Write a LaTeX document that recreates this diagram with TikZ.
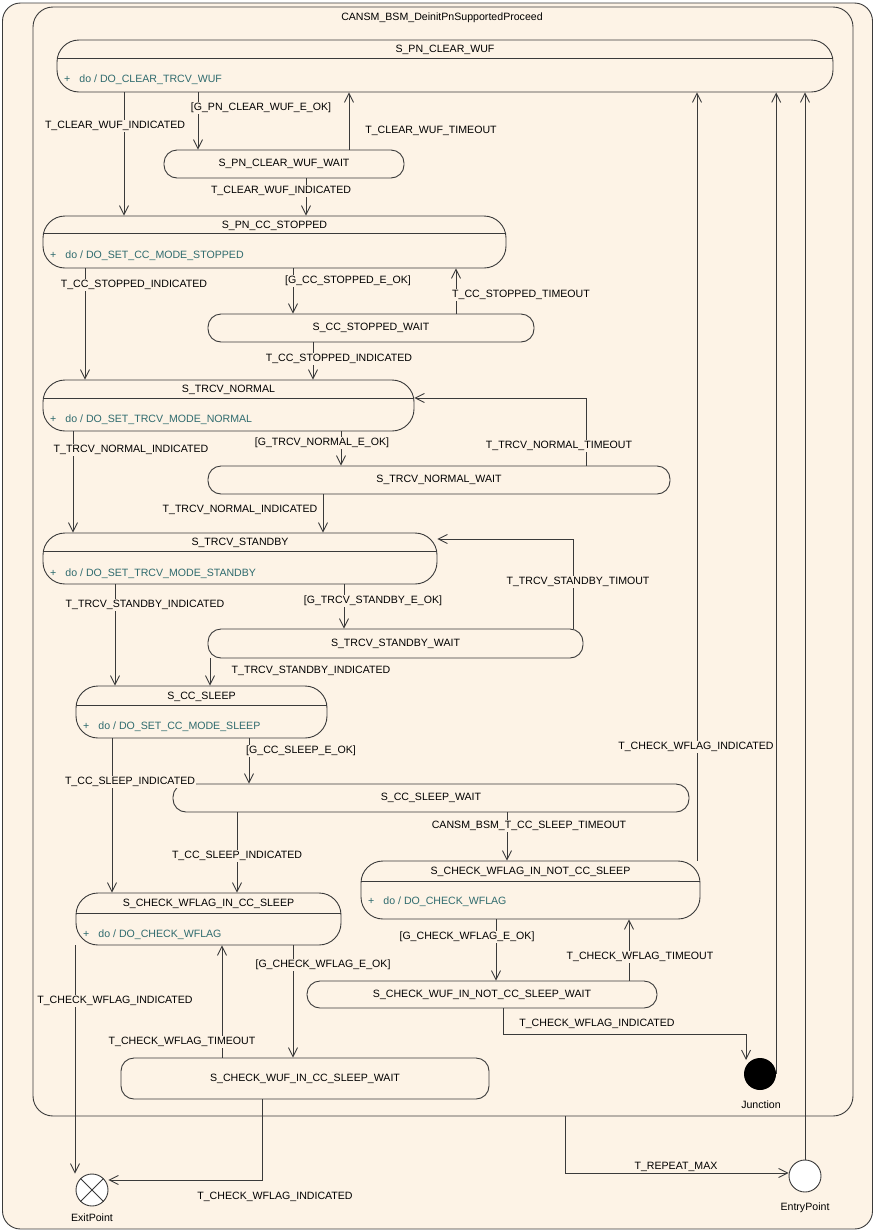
\documentclass[tikz,border=0pt]{standalone}
\usepackage{fontspec}
\setmainfont{Liberation Sans}
\usetikzlibrary{arrows.meta}
\definecolor{bg}{HTML}{FDF3E6}
\definecolor{ln}{HTML}{3A3A3A}
\definecolor{dotxt}{HTML}{2F6B6E}
\tikzset{
  st/.style={draw=ln,line width=0.9pt,rounded corners=13pt,inner sep=0pt},
  cst/.style={draw=ln,line width=0.9pt,rounded corners=22pt,inner sep=0pt},
  tr/.style={draw=ln,line width=0.9pt,-{Straight Barb[length=9pt,width=9pt,line width=0.9pt]}},
  pl/.style={draw=ln,line width=0.9pt},
  lb/.style={font=\fontsize{10.6}{12}\selectfont,text=black,fill=bg,inner sep=1pt},
  tt/.style={font=\fontsize{10.6}{12}\selectfont,text=black,inner sep=0pt},
  dt/.style={font=\fontsize{10.6}{12}\selectfont,text=dotxt,inner sep=0pt,anchor=west}
}
\newcommand{\sst}[6]{\node[st,minimum width={#4-#2},minimum height={#5-#3}] (#1) at ({(#2+#4)/2},{(#3+#5)/2}) {};
  \node[tt] (#1t) at ({(#2+#4)/2},{(#3+#5)/2}) {#6};}
\newcommand{\cstate}[9]{\node[cst,minimum width={#4-#2},minimum height={#5-#3}] (#1) at ({(#2+#4)/2},{(#3+#5)/2}) {};
  \draw[pl] (#2,#7) -- (#4,#7);
  \node[tt] (#1t) at ({(#2+#4)/2},{(#3+#7)/2+1}) {#6};
  \node[dt] (#1d) at ({#2+7},#8) {+\hspace{9pt}do / #9};}
\begin{document}
\begin{tikzpicture}[x=1pt,y=-1pt]
\node[draw=ln,fill=bg,line width=0.9pt,rounded corners=18pt,minimum width=870pt,minimum height=1226pt,inner sep=0pt] (frame) at (437.5,616) {};
\useasboundingbox (0,0) rectangle (875,1232);
\node[draw=ln,line width=0.9pt,rounded corners=20pt,minimum width=820pt,minimum height=1109pt,inner sep=0pt] (cont) at (443,561.5) {};
\node[tt] (contt) at (442,18) {CANSM\_BSM\_DeinitPnSupportedProceed};

\cstate{pcw}{57}{40}{833}{92}{S\_PN\_CLEAR\_WUF}{58}{80}{DO\_CLEAR\_TRCV\_WUF}
\sst{pcww}{164}{150}{404}{178}{S\_PN\_CLEAR\_WUF\_WAIT}
\cstate{pccs}{43}{216}{506}{268}{S\_PN\_CC\_STOPPED}{233}{256}{DO\_SET\_CC\_MODE\_STOPPED}
\sst{ccsw}{208}{314}{534}{342}{S\_CC\_STOPPED\_WAIT}
\cstate{tn}{43}{380}{414}{431}{S\_TRCV\_NORMAL}{398}{420}{DO\_SET\_TRCV\_MODE\_NORMAL}
\sst{tnw}{208}{466}{670}{494}{S\_TRCV\_NORMAL\_WAIT}
\cstate{ts}{43}{533}{437}{584}{S\_TRCV\_STANDBY}{551}{574}{DO\_SET\_TRCV\_MODE\_STANDBY}
\sst{tsw}{208}{629}{583}{658}{S\_TRCV\_STANDBY\_WAIT}
\cstate{cs}{76}{686}{327}{738}{S\_CC\_SLEEP}{705}{727}{DO\_SET\_CC\_MODE\_SLEEP}
\sst{csw}{173}{784}{689}{812}{S\_CC\_SLEEP\_WAIT}
\cstate{cwn}{361}{861}{700}{919}{S\_CHECK\_WFLAG\_IN\_NOT\_CC\_SLEEP}{881}{902}{DO\_CHECK\_WFLAG}
\cstate{cwc}{76}{893}{341}{945}{S\_CHECK\_WFLAG\_IN\_CC\_SLEEP}{913}{935}{DO\_CHECK\_WFLAG}
\sst{wnw}{307}{981}{657}{1008}{S\_CHECK\_WUF\_IN\_NOT\_CC\_SLEEP\_WAIT}
\sst{wcw}{121}{1058}{489}{1099}{S\_CHECK\_WUF\_IN\_CC\_SLEEP\_WAIT}

\node[circle,fill=black,minimum size=32pt,inner sep=0pt] (junc) at (760,1074) {};
\node[tt] (junct) at (761,1105) {Junction};
\node[circle,draw=ln,fill=white,line width=0.9pt,minimum size=32pt,inner sep=0pt] (entry) at (805,1176) {};
\node[tt] (entryt) at (805,1208) {EntryPoint};
\node[circle,draw=ln,fill=white,line width=0.9pt,minimum size=32pt,inner sep=0pt] (exitp) at (92,1190) {};
\draw[pl] (exitp.north west) -- (exitp.south east) (exitp.north east) -- (exitp.south west);
\node[tt] (exitt) at (92,1218) {ExitPoint};

\draw[tr] (pcw.south -| 124,0) -- (pccs.north -| 124,0);
\draw[tr] (pcw.south -| 198,0) -- (pcww.north -| 198,0);
\draw[tr] (pcww.north -| 349,0) -- (pcw.south -| 349,0);
\draw[tr] (pcww.south -| 306,0) -- (pccs.north -| 306,0);
\draw[tr] (pccs.south -| 85,0) -- (tn.north -| 85,0);
\draw[tr] (pccs.south -| 293,0) -- (ccsw.north -| 293,0);
\draw[tr] (ccsw.north -| 456,0) -- (pccs.south -| 456,0);
\draw[tr] (ccsw.south -| 313,0) -- (tn.north -| 313,0);
\draw[tr] (tn.south -| 73,0) -- (ts.north -| 73,0);
\draw[tr] (tn.south -| 341,0) -- (tnw.north -| 341,0);
\draw[tr] (tnw.north -| 586,0) -- (586,398) -- (tn.east |- 0,398);
\draw[tr] (tnw.south -| 323,0) -- (ts.north -| 323,0);
\draw[tr] (ts.south -| 115,0) -- (cs.north -| 115,0);
\draw[tr] (ts.south -| 344,0) -- (tsw.north -| 344,0);
\draw[tr] (tsw.north -| 573,0) -- (573,539) -- (ts.east |- 0,539);
\draw[tr] (tsw.south -| 210,0) -- (cs.north -| 210,0);
\draw[tr] (cs.south -| 112,0) -- (cwc.north -| 112,0);
\draw[tr] (cs.south -| 249,0) -- (csw.north -| 249,0);
\draw[tr] (csw.south -| 237,0) -- (cwc.north -| 237,0);
\draw[tr] (csw.south -| 507,0) -- (cwn.north -| 507,0);
\draw[tr] (cwn.north -| 697,0) -- (pcw.south -| 697,0);
\draw[tr] (cwn.south -| 496,0) -- (wnw.north -| 496,0);
\draw[tr] (wnw.north -| 629,0) -- (cwn.south -| 629,0);
\draw[tr] (wnw.south -| 503,0) -- (503,1034) -- (746,1034) -- (746,1060);
\draw[tr] (junc.east) -- (pcw.south -| junc.east);
\draw[tr] (entry.north) -- (pcw.south -| entry.north);
\draw[tr] (cwc.south -| 293,0) -- (wcw.north -| 293,0);
\draw[tr] (wcw.north -| 222,0) -- (cwc.south -| 222,0);
\draw[tr] (cwc.south -| 75,0) -- (exitp.north -| 75,0);
\draw[tr] (wcw.south -| 262,0) -- (262,1180) -- (exitp.east |- 0,1180);
\draw[tr] (cont.south -| 565,0) -- (565,1173) -- (entry.west |- 0,1173);

\node[lb] (l1) at (115,126) {T\_CLEAR\_WUF\_INDICATED};
\node[lb] (l2) at (261,108) {[G\_PN\_CLEAR\_WUF\_E\_OK]};
\node[lb] (l3) at (431,131) {T\_CLEAR\_WUF\_TIMEOUT};
\node[lb] (l4) at (281,191) {T\_CLEAR\_WUF\_INDICATED};
\node[lb] (l5) at (134,285) {T\_CC\_STOPPED\_INDICATED};
\node[lb] (l6) at (348,281) {[G\_CC\_STOPPED\_E\_OK]};
\node[lb] (l7) at (521,295) {T\_CC\_STOPPED\_TIMEOUT};
\node[lb] (l8) at (339,359) {T\_CC\_STOPPED\_INDICATED};
\node[lb] (l9) at (131,450) {T\_TRCV\_NORMAL\_INDICATED};
\node[lb] (l10) at (322,443) {[G\_TRCV\_NORMAL\_E\_OK]};
\node[lb] (l11) at (559,446) {T\_TRCV\_NORMAL\_TIMEOUT};
\node[lb] (l12) at (240,510) {T\_TRCV\_NORMAL\_INDICATED};
\node[lb] (l13) at (145,605) {T\_TRCV\_STANDBY\_INDICATED};
\node[lb] (l14) at (373,601) {[G\_TRCV\_STANDBY\_E\_OK]};
\node[lb] (l15) at (578,582) {T\_TRCV\_STANDBY\_TIMOUT};
\node[lb] (l16) at (311,671) {T\_TRCV\_STANDBY\_INDICATED};
\node[lb] (l17) at (130,782) {T\_CC\_SLEEP\_INDICATED};
\node[lb] (l18) at (301,751) {[G\_CC\_SLEEP\_E\_OK]};
\node[lb] (l19) at (237,856) {T\_CC\_SLEEP\_INDICATED};
\node[lb] (l20) at (529,826) {CANSM\_BSM\_T\_CC\_SLEEP\_TIMEOUT};
\node[lb] (l21) at (696,747) {T\_CHECK\_WFLAG\_INDICATED};
\node[lb] (l22) at (467,937) {[G\_CHECK\_WFLAG\_E\_OK]};
\node[lb] (l23) at (640,957) {T\_CHECK\_WFLAG\_TIMEOUT};
\node[lb] (l24) at (597,1024) {T\_CHECK\_WFLAG\_INDICATED};
\node[lb] (l27) at (323,965) {[G\_CHECK\_WFLAG\_E\_OK]};
\node[lb] (l28) at (182,1042) {T\_CHECK\_WFLAG\_TIMEOUT};
\node[lb] (l29) at (115,1001) {T\_CHECK\_WFLAG\_INDICATED};
\node[lb] (l30) at (275,1197) {T\_CHECK\_WFLAG\_INDICATED};
\node[lb] (l31) at (676,1167) {T\_REPEAT\_MAX};
\end{tikzpicture}
\end{document}
